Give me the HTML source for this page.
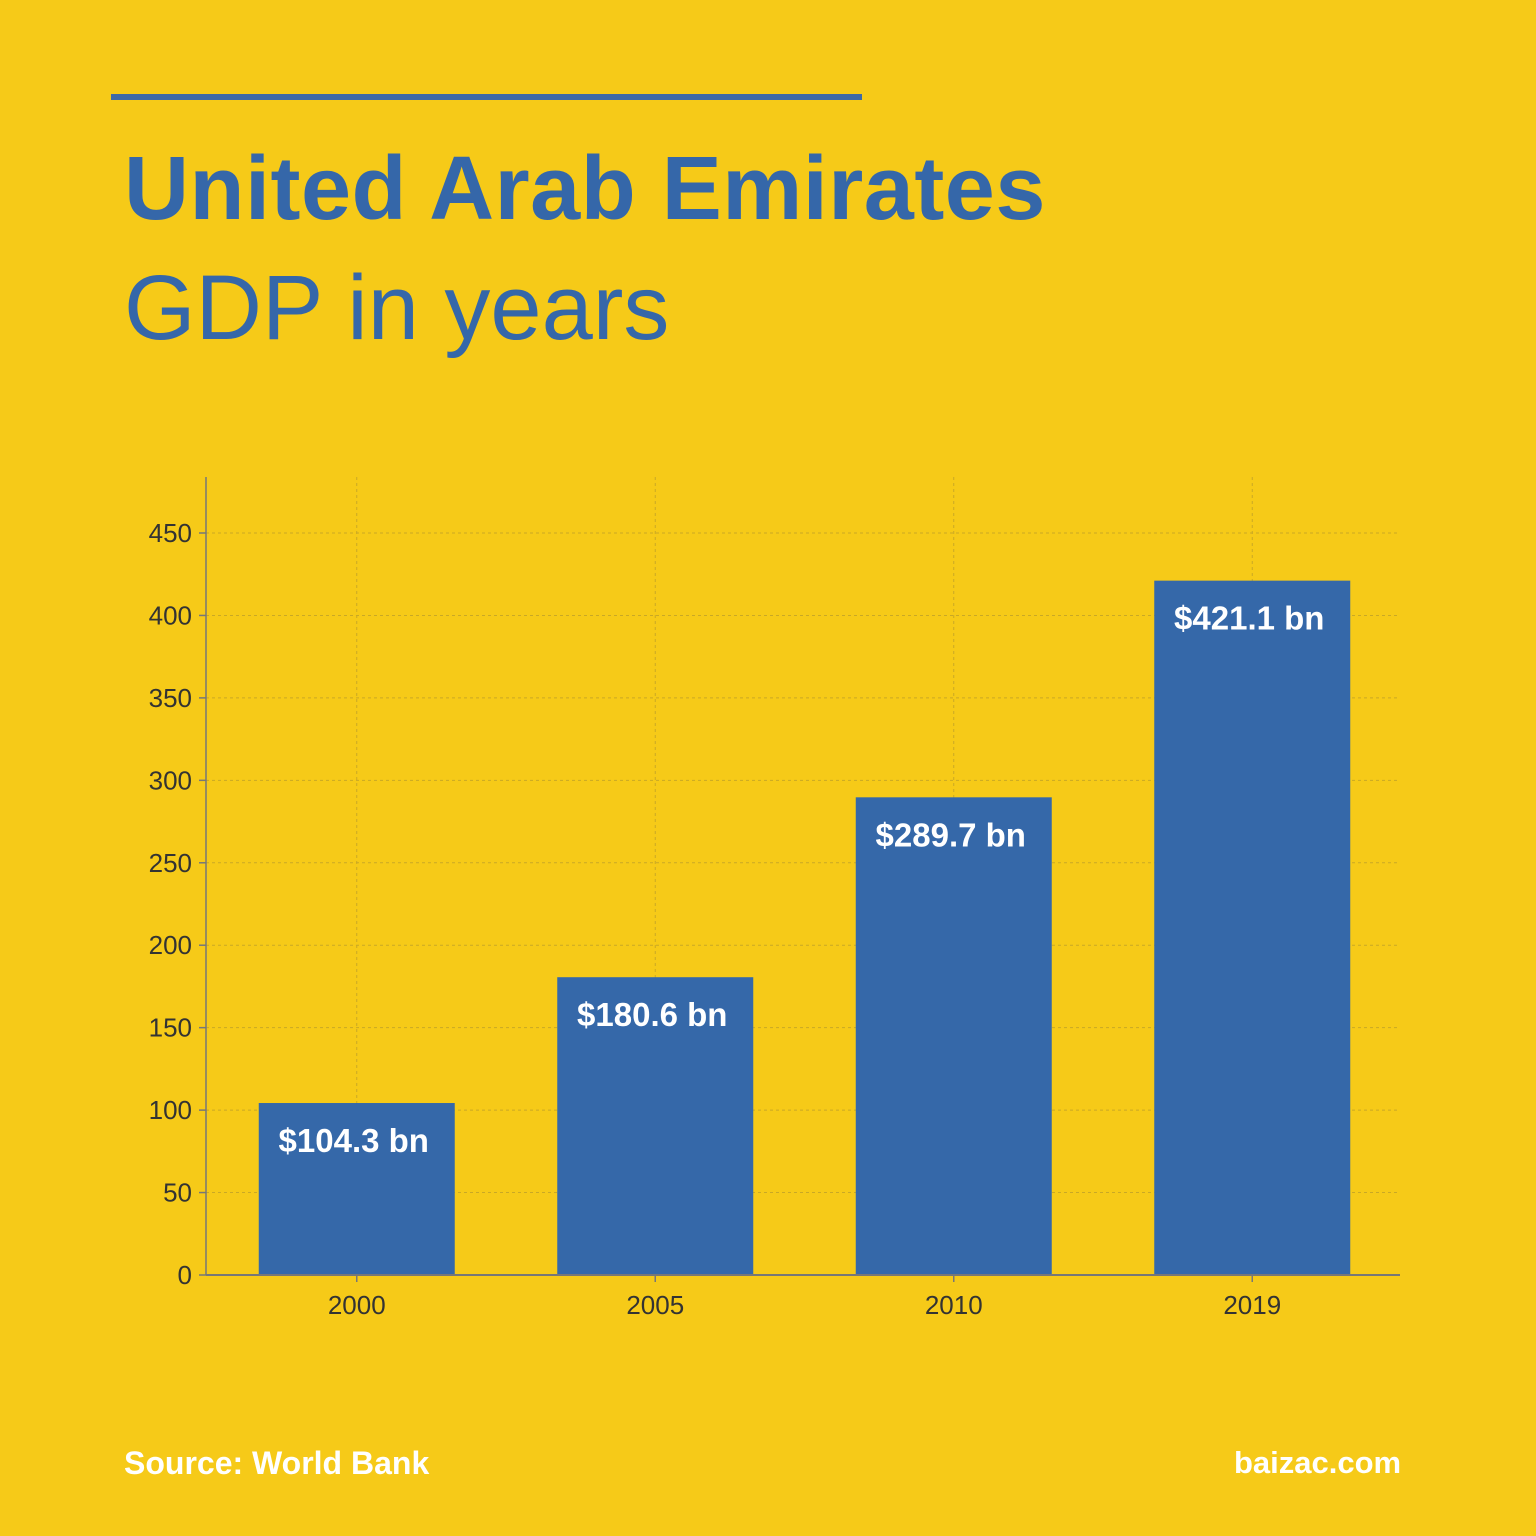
<!DOCTYPE html>
<html><head><meta charset="utf-8"><style>
html,body{margin:0;padding:0}
body{width:1536px;height:1536px;background:#f6ca18;position:relative;overflow:hidden;font-family:"Liberation Sans",sans-serif}
.t{position:absolute;white-space:nowrap;color:#3567a9}
</style></head><body>
<div style="position:absolute;left:111px;top:94px;width:751px;height:6px;background:#3e69a6"></div>
<div class="t" style="left:124px;top:138px;font-size:90px;font-weight:bold;letter-spacing:0.5px">United Arab Emirates</div>
<div class="t" style="left:124px;top:256px;font-size:92px">GDP in years</div>
<svg id="chart" width="1536" height="1536" style="position:absolute;left:0;top:0"></svg>
<div class="t" style="left:124px;top:1445px;font-size:32px;font-weight:bold;color:#fff">Source: World Bank</div>
<div class="t" style="left:1234px;top:1445px;font-size:31px;font-weight:bold;color:#fff">baizac.com</div>
<script>
const categories=["2000","2005","2010","2019"];
const values=[104.3,180.6,289.7,421.1];
const valueLabels=["$104.3 bn","$180.6 bn","$289.7 bn","$421.1 bn"];
const yTicks=[0,50,100,150,200,250,300,350,400,450];
const NS="http://www.w3.org/2000/svg";
const svg=document.getElementById('chart');
const L=206,R=1400,T=477,B=1275;
const y=v=>B-v*(1275-533)/450;
const band=(R-L)/categories.length;
const x=i=>L+band*(i+0.5)+1.5;
const bw=196;
function mk(tag,a){const e=document.createElementNS(NS,tag);for(const k in a)e.setAttribute(k,a[k]);svg.appendChild(e);return e;}
yTicks.forEach(v=>{
 const g=mk('line',{x1:L,x2:R,y1:y(v),y2:y(v),stroke:'#c9a825','stroke-width':1,'stroke-dasharray':'3,3'});
 
 
 const tk=mk('line',{x1:L-7,x2:L,y1:y(v),y2:y(v),stroke:'#777','stroke-width':1.5});
 
 
 const t=mk('text',{x:L-14,y:y(v)+9,'text-anchor':'end','font-size':26,fill:'#333','font-family':'Liberation Sans, sans-serif'});
 t.textContent=v;
 
 
});
categories.forEach((c,i)=>{
 const g=mk('line',{x1:x(i),x2:x(i),y1:T,y2:B,stroke:'#c9a825','stroke-width':1,'stroke-dasharray':'3,3'});
 
 
});
categories.forEach((c,i)=>{
 const r=mk('rect',{x:x(i)-bw/2,y:y(values[i]),width:bw,height:B-y(values[i]),fill:'#3568a9'});
 
 
 const lb=mk('text',{x:x(i)-3,y:y(values[i])+49,'text-anchor':'middle','font-size':33,'font-weight':'bold',fill:'#fff','font-family':'Liberation Sans, sans-serif'});
 lb.textContent=valueLabels[i];
 
 
 const tk=mk('line',{x1:x(i),x2:x(i),y1:B,y2:B+7,stroke:'#777','stroke-width':1.5});
 
 
 const t=mk('text',{x:x(i),y:B+39,'text-anchor':'middle','font-size':26,fill:'#333','font-family':'Liberation Sans, sans-serif'});
 t.textContent=c;
 
 
});
const ya=mk('line',{x1:L,x2:L,y1:T,y2:B,stroke:'#777','stroke-width':1.5});


const xa=mk('line',{x1:L,x2:R,y1:B,y2:B,stroke:'#777','stroke-width':2});


</script>
</body></html>
